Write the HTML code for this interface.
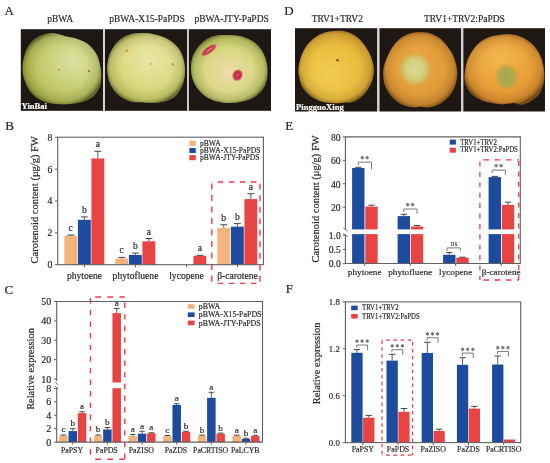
<!DOCTYPE html>
<html><head><meta charset="utf-8"><style>
html,body{margin:0;padding:0;background:#fff;width:550px;height:463px;overflow:hidden}
svg{display:block;font-family:'Liberation Serif', serif;will-change:transform}
</style></head><body>
<svg width="550" height="463" viewBox="0 0 550 463">
<rect width="550" height="463" fill="#fff"/>
<defs>
<radialGradient id="gA1" cx="0.65" cy="0.4" r="0.8"><stop offset="0" stop-color="#dce0a2"/><stop offset="0.35" stop-color="#ccd480"/><stop offset="0.7" stop-color="#b8c05a"/><stop offset="1" stop-color="#8e9830"/></radialGradient>
<radialGradient id="gA2" cx="0.55" cy="0.38" r="0.8"><stop offset="0" stop-color="#e8e6a8"/><stop offset="0.4" stop-color="#e0dc8a"/><stop offset="0.75" stop-color="#ccce68"/><stop offset="1" stop-color="#a8b048"/></radialGradient>
<radialGradient id="gA3" cx="0.5" cy="0.55" r="0.75"><stop offset="0" stop-color="#eedcaa"/><stop offset="0.4" stop-color="#dcd888"/><stop offset="0.75" stop-color="#c0c860"/><stop offset="1" stop-color="#94b048"/></radialGradient>
<radialGradient id="rimA" cx="0.5" cy="0.5" r="0.52"><stop offset="0" stop-color="#000" stop-opacity="0"/><stop offset="0.62" stop-color="#182000" stop-opacity="0"/><stop offset="0.88" stop-color="#182000" stop-opacity="0.1"/><stop offset="0.97" stop-color="#182000" stop-opacity="0.35"/><stop offset="1" stop-color="#182000" stop-opacity="0.55"/></radialGradient>
<radialGradient id="rim" cx="0.5" cy="0.5" r="0.52"><stop offset="0" stop-color="#000" stop-opacity="0"/><stop offset="0.62" stop-color="#201400" stop-opacity="0"/><stop offset="0.88" stop-color="#201400" stop-opacity="0.1"/><stop offset="0.97" stop-color="#201400" stop-opacity="0.35"/><stop offset="1" stop-color="#201400" stop-opacity="0.55"/></radialGradient>
<radialGradient id="gD1" cx="0.4" cy="0.6" r="0.75"><stop offset="0" stop-color="#f2cc52"/><stop offset="0.5" stop-color="#eabe40"/><stop offset="1" stop-color="#daa230"/></radialGradient>
<radialGradient id="gD2" cx="0.45" cy="0.45" r="0.75"><stop offset="0" stop-color="#ecaa48"/><stop offset="0.5" stop-color="#e29c38"/><stop offset="1" stop-color="#cc842c"/></radialGradient>
<radialGradient id="gD3" cx="0.45" cy="0.35" r="0.75"><stop offset="0" stop-color="#f2b850"/><stop offset="0.5" stop-color="#eaa03a"/><stop offset="1" stop-color="#dc8c2c"/></radialGradient>
<radialGradient id="pG2" cx="0.5" cy="0.5" r="0.5"><stop offset="0" stop-color="#dadb96"/><stop offset="0.55" stop-color="#d2d07c"/><stop offset="0.82" stop-color="#d4b860" stop-opacity="0.7"/><stop offset="1" stop-color="#e29c38" stop-opacity="0"/></radialGradient>
<radialGradient id="pG3" cx="0.5" cy="0.5" r="0.5"><stop offset="0" stop-color="#a4a44a"/><stop offset="0.55" stop-color="#acaa4c"/><stop offset="0.8" stop-color="#c8a440" stop-opacity="0.7"/><stop offset="1" stop-color="#e89c34" stop-opacity="0"/></radialGradient>
<radialGradient id="rs" cx="0.5" cy="0.5" r="0.5"><stop offset="0" stop-color="#d85868"/><stop offset="0.45" stop-color="#c42840"/><stop offset="0.72" stop-color="#cc3a4c" stop-opacity="0.85"/><stop offset="1" stop-color="#e0c0a0" stop-opacity="0"/></radialGradient>
<filter id="soft" x="-10%" y="-10%" width="120%" height="120%"><feGaussianBlur stdDeviation="0.7"/></filter>
</defs>
<rect x="20.80" y="29.20" width="82.20" height="81.60" fill="#1e1815" />
<rect x="104.80" y="29.20" width="82.20" height="81.60" fill="#1e1815" />
<rect x="188.60" y="29.20" width="82.40" height="81.60" fill="#1e1815" />
<rect x="295.00" y="28.20" width="82.30" height="83.30" fill="#1e1815" />
<rect x="379.30" y="28.20" width="81.70" height="83.30" fill="#1e1815" />
<rect x="463.20" y="28.20" width="81.80" height="83.30" fill="#1e1815" />
<rect x="103.00" y="29.20" width="1.80" height="81.60" fill="#d6d2d2" />
<rect x="187.00" y="29.20" width="1.60" height="81.60" fill="#d6d2d2" />
<rect x="377.30" y="28.20" width="2.00" height="83.30" fill="#d6d2d2" />
<rect x="461.00" y="28.20" width="2.20" height="83.30" fill="#d6d2d2" />
<path d="M52.70,33.10 C56.63,33.25 61.78,35.38 65.40,36.20 C69.02,37.02 70.77,36.80 74.40,38.00 C78.03,39.20 83.57,40.83 87.20,43.40 C90.83,45.97 94.08,49.92 96.20,53.40 C98.32,56.88 99.05,60.67 99.90,64.30 C100.75,67.93 101.30,71.57 101.30,75.20 C101.30,78.83 101.05,82.77 99.90,86.10 C98.75,89.43 97.13,92.63 94.40,95.20 C91.67,97.77 88.03,100.00 83.50,101.50 C78.97,103.00 72.63,103.90 67.20,104.20 C61.77,104.50 55.75,104.20 50.90,103.30 C46.05,102.40 41.73,101.07 38.10,98.80 C34.47,96.53 31.52,93.33 29.10,89.70 C26.68,86.07 24.67,81.23 23.60,77.00 C22.53,72.77 22.23,68.83 22.70,64.30 C23.17,59.77 24.73,53.73 26.40,49.80 C28.07,45.87 30.13,43.12 32.70,40.70 C35.27,38.28 38.47,36.57 41.80,35.30 C45.13,34.03 48.77,32.95 52.70,33.10 Z" fill="url(#gA1)" filter="url(#soft)"/>
<path d="M52.70,33.10 C56.63,33.25 61.78,35.38 65.40,36.20 C69.02,37.02 70.77,36.80 74.40,38.00 C78.03,39.20 83.57,40.83 87.20,43.40 C90.83,45.97 94.08,49.92 96.20,53.40 C98.32,56.88 99.05,60.67 99.90,64.30 C100.75,67.93 101.30,71.57 101.30,75.20 C101.30,78.83 101.05,82.77 99.90,86.10 C98.75,89.43 97.13,92.63 94.40,95.20 C91.67,97.77 88.03,100.00 83.50,101.50 C78.97,103.00 72.63,103.90 67.20,104.20 C61.77,104.50 55.75,104.20 50.90,103.30 C46.05,102.40 41.73,101.07 38.10,98.80 C34.47,96.53 31.52,93.33 29.10,89.70 C26.68,86.07 24.67,81.23 23.60,77.00 C22.53,72.77 22.23,68.83 22.70,64.30 C23.17,59.77 24.73,53.73 26.40,49.80 C28.07,45.87 30.13,43.12 32.70,40.70 C35.27,38.28 38.47,36.57 41.80,35.30 C45.13,34.03 48.77,32.95 52.70,33.10 Z" fill="url(#rimA)" filter="url(#soft)"/>
<circle cx="59" cy="69.7" r="0.8" fill="#a07030"/><ellipse cx="89" cy="71" rx="0.8" ry="1.3" fill="#a05a30"/>
<path d="M140.30,33.10 C144.83,32.95 150.27,33.43 154.80,34.40 C159.33,35.37 163.57,36.63 167.50,38.90 C171.43,41.17 175.67,44.37 178.40,48.00 C181.13,51.63 182.83,56.17 183.90,60.70 C184.97,65.23 185.27,70.67 184.80,75.20 C184.33,79.73 183.07,84.12 181.10,87.90 C179.13,91.68 176.78,95.48 173.00,97.90 C169.22,100.32 163.25,101.65 158.40,102.40 C153.55,103.15 148.43,102.55 143.90,102.40 C139.37,102.25 135.43,102.70 131.20,101.50 C126.97,100.30 121.97,98.07 118.50,95.20 C115.03,92.33 112.27,88.55 110.40,84.30 C108.53,80.05 107.47,74.55 107.30,69.70 C107.13,64.85 107.83,59.73 109.40,55.20 C110.97,50.67 113.67,45.82 116.70,42.50 C119.73,39.18 123.67,36.87 127.60,35.30 C131.53,33.73 135.77,33.25 140.30,33.10 Z" fill="url(#gA2)" filter="url(#soft)"/>
<path d="M140.30,33.10 C144.83,32.95 150.27,33.43 154.80,34.40 C159.33,35.37 163.57,36.63 167.50,38.90 C171.43,41.17 175.67,44.37 178.40,48.00 C181.13,51.63 182.83,56.17 183.90,60.70 C184.97,65.23 185.27,70.67 184.80,75.20 C184.33,79.73 183.07,84.12 181.10,87.90 C179.13,91.68 176.78,95.48 173.00,97.90 C169.22,100.32 163.25,101.65 158.40,102.40 C153.55,103.15 148.43,102.55 143.90,102.40 C139.37,102.25 135.43,102.70 131.20,101.50 C126.97,100.30 121.97,98.07 118.50,95.20 C115.03,92.33 112.27,88.55 110.40,84.30 C108.53,80.05 107.47,74.55 107.30,69.70 C107.13,64.85 107.83,59.73 109.40,55.20 C110.97,50.67 113.67,45.82 116.70,42.50 C119.73,39.18 123.67,36.87 127.60,35.30 C131.53,33.73 135.77,33.25 140.30,33.10 Z" fill="url(#rimA)" filter="url(#soft)"/>
<ellipse cx="126.7" cy="50.7" rx="1.5" ry="1.3" fill="#d08a48" opacity="0.9"/><circle cx="150.8" cy="63.9" r="0.9" fill="#d09a58" opacity="0.85"/><ellipse cx="172.6" cy="64.3" rx="0.9" ry="1.5" fill="#c87a48" opacity="0.9"/><circle cx="168.4" cy="87.9" r="0.8" fill="#d0b070" opacity="0.7"/>
<path d="M224.30,34.90 C228.83,34.90 235.77,35.08 240.60,36.20 C245.43,37.32 249.67,39.03 253.30,41.60 C256.93,44.17 260.13,47.82 262.40,51.60 C264.67,55.38 266.15,59.77 266.90,64.30 C267.65,68.83 267.65,74.57 266.90,78.80 C266.15,83.03 264.97,86.37 262.40,89.70 C259.83,93.03 255.73,96.68 251.50,98.80 C247.27,100.92 241.83,101.80 237.00,102.40 C232.17,103.00 227.33,103.15 222.50,102.40 C217.67,101.65 212.23,100.32 208.00,97.90 C203.77,95.48 199.83,91.68 197.10,87.90 C194.37,84.12 192.52,79.73 191.60,75.20 C190.68,70.67 190.83,64.93 191.60,60.70 C192.37,56.47 194.08,53.13 196.20,49.80 C198.32,46.47 201.43,42.97 204.30,40.70 C207.17,38.43 210.07,37.17 213.40,36.20 C216.73,35.23 219.77,34.90 224.30,34.90 Z" fill="url(#gA3)" filter="url(#soft)"/>
<path d="M224.30,34.90 C228.83,34.90 235.77,35.08 240.60,36.20 C245.43,37.32 249.67,39.03 253.30,41.60 C256.93,44.17 260.13,47.82 262.40,51.60 C264.67,55.38 266.15,59.77 266.90,64.30 C267.65,68.83 267.65,74.57 266.90,78.80 C266.15,83.03 264.97,86.37 262.40,89.70 C259.83,93.03 255.73,96.68 251.50,98.80 C247.27,100.92 241.83,101.80 237.00,102.40 C232.17,103.00 227.33,103.15 222.50,102.40 C217.67,101.65 212.23,100.32 208.00,97.90 C203.77,95.48 199.83,91.68 197.10,87.90 C194.37,84.12 192.52,79.73 191.60,75.20 C190.68,70.67 190.83,64.93 191.60,60.70 C192.37,56.47 194.08,53.13 196.20,49.80 C198.32,46.47 201.43,42.97 204.30,40.70 C207.17,38.43 210.07,37.17 213.40,36.20 C216.73,35.23 219.77,34.90 224.30,34.90 Z" fill="url(#rimA)" filter="url(#soft)"/>
<ellipse cx="209" cy="50" rx="10.5" ry="3.8" transform="rotate(-36 209 50)" fill="url(#rs)"/><ellipse cx="209.5" cy="50" rx="6" ry="1.2" transform="rotate(-36 209.5 50)" fill="#d89080" opacity="0.5"/><ellipse cx="237.5" cy="75.2" rx="5.8" ry="6.8" transform="rotate(25 237.5 75.2)" fill="url(#rs)"/>
<path d="M334.60,30.90 C337.88,30.68 341.13,30.52 344.40,31.20 C347.67,31.88 351.20,33.13 354.20,35.00 C357.20,36.87 359.95,39.53 362.40,42.40 C364.85,45.27 367.27,49.20 368.90,52.20 C370.53,55.20 371.38,57.60 372.20,60.40 C373.02,63.20 373.67,66.23 373.80,69.00 C373.93,71.77 373.53,74.43 373.00,77.00 C372.47,79.57 372.10,81.53 370.60,84.40 C369.10,87.27 366.73,91.33 364.00,94.20 C361.27,97.07 357.47,100.23 354.20,101.60 C350.93,102.97 347.67,102.13 344.40,102.40 C341.13,102.67 338.42,103.33 334.60,103.20 C330.78,103.07 325.60,102.83 321.50,101.60 C317.40,100.37 313.15,98.13 310.00,95.80 C306.85,93.47 304.37,90.60 302.60,87.60 C300.83,84.60 300.08,80.90 299.40,77.80 C298.72,74.70 298.23,72.45 298.50,69.00 C298.77,65.55 299.63,61.00 301.00,57.10 C302.37,53.20 304.38,48.87 306.70,45.60 C309.02,42.33 311.90,39.68 314.90,37.50 C317.90,35.32 321.42,33.60 324.70,32.50 C327.98,31.40 331.32,31.12 334.60,30.90 Z" fill="url(#gD1)" filter="url(#soft)"/>
<path d="M334.60,30.90 C337.88,30.68 341.13,30.52 344.40,31.20 C347.67,31.88 351.20,33.13 354.20,35.00 C357.20,36.87 359.95,39.53 362.40,42.40 C364.85,45.27 367.27,49.20 368.90,52.20 C370.53,55.20 371.38,57.60 372.20,60.40 C373.02,63.20 373.67,66.23 373.80,69.00 C373.93,71.77 373.53,74.43 373.00,77.00 C372.47,79.57 372.10,81.53 370.60,84.40 C369.10,87.27 366.73,91.33 364.00,94.20 C361.27,97.07 357.47,100.23 354.20,101.60 C350.93,102.97 347.67,102.13 344.40,102.40 C341.13,102.67 338.42,103.33 334.60,103.20 C330.78,103.07 325.60,102.83 321.50,101.60 C317.40,100.37 313.15,98.13 310.00,95.80 C306.85,93.47 304.37,90.60 302.60,87.60 C300.83,84.60 300.08,80.90 299.40,77.80 C298.72,74.70 298.23,72.45 298.50,69.00 C298.77,65.55 299.63,61.00 301.00,57.10 C302.37,53.20 304.38,48.87 306.70,45.60 C309.02,42.33 311.90,39.68 314.90,37.50 C317.90,35.32 321.42,33.60 324.70,32.50 C327.98,31.40 331.32,31.12 334.60,30.90 Z" fill="url(#rim)" filter="url(#soft)"/>
<circle cx="337.5" cy="60.3" r="1.3" fill="#a04020"/>
<path d="M420.20,32.20 C423.47,32.20 426.73,32.38 430.00,33.40 C433.27,34.42 436.80,35.98 439.80,38.30 C442.80,40.62 445.68,44.17 448.00,47.30 C450.32,50.43 452.17,53.07 453.70,57.10 C455.23,61.13 456.92,66.95 457.20,71.50 C457.48,76.05 456.67,80.35 455.40,84.40 C454.13,88.45 452.20,92.53 449.60,95.80 C447.00,99.07 443.33,102.08 439.80,104.00 C436.27,105.92 431.67,106.88 428.40,107.30 C425.13,107.72 422.67,106.50 420.20,106.50 C417.73,106.50 416.60,107.58 413.60,107.30 C410.60,107.02 405.73,106.43 402.20,104.80 C398.67,103.17 395.13,100.37 392.40,97.50 C389.67,94.63 387.30,90.88 385.80,87.60 C384.30,84.32 383.77,81.07 383.40,77.80 C383.03,74.53 383.07,71.18 383.60,68.00 C384.13,64.82 385.13,62.15 386.60,58.70 C388.07,55.25 390.08,50.70 392.40,47.30 C394.72,43.90 397.50,40.62 400.50,38.30 C403.50,35.98 407.12,34.42 410.40,33.40 C413.68,32.38 416.93,32.20 420.20,32.20 Z" fill="url(#gD2)" filter="url(#soft)"/>
<path d="M420.20,32.20 C423.47,32.20 426.73,32.38 430.00,33.40 C433.27,34.42 436.80,35.98 439.80,38.30 C442.80,40.62 445.68,44.17 448.00,47.30 C450.32,50.43 452.17,53.07 453.70,57.10 C455.23,61.13 456.92,66.95 457.20,71.50 C457.48,76.05 456.67,80.35 455.40,84.40 C454.13,88.45 452.20,92.53 449.60,95.80 C447.00,99.07 443.33,102.08 439.80,104.00 C436.27,105.92 431.67,106.88 428.40,107.30 C425.13,107.72 422.67,106.50 420.20,106.50 C417.73,106.50 416.60,107.58 413.60,107.30 C410.60,107.02 405.73,106.43 402.20,104.80 C398.67,103.17 395.13,100.37 392.40,97.50 C389.67,94.63 387.30,90.88 385.80,87.60 C384.30,84.32 383.77,81.07 383.40,77.80 C383.03,74.53 383.07,71.18 383.60,68.00 C384.13,64.82 385.13,62.15 386.60,58.70 C388.07,55.25 390.08,50.70 392.40,47.30 C394.72,43.90 397.50,40.62 400.50,38.30 C403.50,35.98 407.12,34.42 410.40,33.40 C413.68,32.38 416.93,32.20 420.20,32.20 Z" fill="url(#rim)" filter="url(#soft)"/>
<ellipse cx="415" cy="69.5" rx="17.5" ry="18" fill="url(#pG2)"/>
<path d="M504.20,34.50 C508.28,34.23 512.05,34.23 515.60,35.00 C519.15,35.77 522.50,37.33 525.50,39.10 C528.50,40.87 531.15,42.87 533.60,45.60 C536.05,48.33 538.55,51.95 540.20,55.50 C541.85,59.05 542.82,62.98 543.50,66.90 C544.18,70.82 544.45,75.73 544.30,79.00 C544.15,82.27 543.55,83.88 542.60,86.50 C541.65,89.12 540.63,92.23 538.60,94.70 C536.57,97.17 533.13,99.67 530.40,101.30 C527.67,102.93 524.93,104.23 522.20,104.50 C519.47,104.77 517.27,102.95 514.00,102.90 C510.73,102.85 506.15,104.20 502.60,104.20 C499.05,104.20 495.72,103.38 492.70,102.90 C489.68,102.42 487.50,102.38 484.50,101.30 C481.50,100.22 477.42,98.32 474.70,96.40 C471.98,94.48 469.88,92.70 468.20,89.80 C466.52,86.90 464.88,83.37 464.60,79.00 C464.32,74.63 465.35,68.07 466.50,63.60 C467.65,59.13 469.32,55.73 471.50,52.20 C473.68,48.67 476.33,45.00 479.60,42.40 C482.87,39.80 487.00,37.92 491.10,36.60 C495.20,35.28 500.12,34.77 504.20,34.50 Z" fill="url(#gD3)" filter="url(#soft)"/>
<path d="M504.20,34.50 C508.28,34.23 512.05,34.23 515.60,35.00 C519.15,35.77 522.50,37.33 525.50,39.10 C528.50,40.87 531.15,42.87 533.60,45.60 C536.05,48.33 538.55,51.95 540.20,55.50 C541.85,59.05 542.82,62.98 543.50,66.90 C544.18,70.82 544.45,75.73 544.30,79.00 C544.15,82.27 543.55,83.88 542.60,86.50 C541.65,89.12 540.63,92.23 538.60,94.70 C536.57,97.17 533.13,99.67 530.40,101.30 C527.67,102.93 524.93,104.23 522.20,104.50 C519.47,104.77 517.27,102.95 514.00,102.90 C510.73,102.85 506.15,104.20 502.60,104.20 C499.05,104.20 495.72,103.38 492.70,102.90 C489.68,102.42 487.50,102.38 484.50,101.30 C481.50,100.22 477.42,98.32 474.70,96.40 C471.98,94.48 469.88,92.70 468.20,89.80 C466.52,86.90 464.88,83.37 464.60,79.00 C464.32,74.63 465.35,68.07 466.50,63.60 C467.65,59.13 469.32,55.73 471.50,52.20 C473.68,48.67 476.33,45.00 479.60,42.40 C482.87,39.80 487.00,37.92 491.10,36.60 C495.20,35.28 500.12,34.77 504.20,34.50 Z" fill="url(#rim)" filter="url(#soft)"/>
<ellipse cx="506.7" cy="77" rx="12.5" ry="14.5" fill="url(#pG3)"/>
<text x="60.20" y="22.00" font-size="9.5" text-anchor="middle" fill="#2a2a2a" stroke="#2a2a2a" stroke-width="0.18" >pBWA</text>
<text x="147.00" y="22.00" font-size="9.5" text-anchor="middle" fill="#2a2a2a" stroke="#2a2a2a" stroke-width="0.18" >pBWA-X15-PaPDS</text>
<text x="231.60" y="22.00" font-size="9.5" text-anchor="middle" fill="#2a2a2a" stroke="#2a2a2a" stroke-width="0.18" >pBWA-JTY-PaPDS</text>
<text x="337.30" y="22.00" font-size="9.5" text-anchor="middle" fill="#2a2a2a" stroke="#2a2a2a" stroke-width="0.18" >TRV1+TRV2</text>
<text x="464.40" y="21.80" font-size="9.5" text-anchor="middle" fill="#2a2a2a" stroke="#2a2a2a" stroke-width="0.18" >TRV1+TRV2:PaPDS</text>
<text x="21.60" y="109.10" font-size="8.5" text-anchor="start" fill="#fff" stroke="#fff" stroke-width="0.18" font-weight="bold">YinBai</text>
<text x="296.00" y="110.40" font-size="8.6" text-anchor="start" fill="#fff" stroke="#fff" stroke-width="0.18" font-weight="bold">PingguoXing</text>
<text x="4.60" y="14.80" font-size="13" text-anchor="start" fill="#2a2a2a" stroke="#2a2a2a" stroke-width="0.22" >A</text>
<text x="284.20" y="14.80" font-size="13" text-anchor="start" fill="#2a2a2a" stroke="#2a2a2a" stroke-width="0.22" >D</text>
<rect x="64.30" y="235.71" width="12.90" height="28.99" fill="#f3b47c" />
<line x1="70.75" y1="235.71" x2="70.75" y2="235.07" stroke="#333" stroke-width="0.8" />
<line x1="67.25" y1="235.07" x2="74.25" y2="235.07" stroke="#333" stroke-width="0.9" />
<text x="70.75" y="231.07" font-size="9.6" text-anchor="middle" fill="#2a2a2a" stroke="#2a2a2a" stroke-width="0.18" >c</text>
<rect x="77.90" y="219.78" width="12.90" height="44.92" fill="#1d4c9f" />
<line x1="84.35" y1="219.78" x2="84.35" y2="216.91" stroke="#333" stroke-width="0.8" />
<line x1="80.85" y1="216.91" x2="87.85" y2="216.91" stroke="#333" stroke-width="0.9" />
<text x="84.35" y="212.91" font-size="9.6" text-anchor="middle" fill="#2a2a2a" stroke="#2a2a2a" stroke-width="0.18" >b</text>
<rect x="91.40" y="158.45" width="12.90" height="106.25" fill="#e84444" />
<line x1="97.85" y1="158.45" x2="97.85" y2="151.28" stroke="#333" stroke-width="0.8" />
<line x1="94.35" y1="151.28" x2="101.35" y2="151.28" stroke="#333" stroke-width="0.9" />
<text x="97.85" y="147.28" font-size="9.6" text-anchor="middle" fill="#2a2a2a" stroke="#2a2a2a" stroke-width="0.18" >a</text>
<line x1="84.50" y1="264.70" x2="84.50" y2="267.20" stroke="#606060" stroke-width="1" />
<text x="84.50" y="278.50" font-size="9.6" text-anchor="middle" fill="#2a2a2a" stroke="#2a2a2a" stroke-width="0.18" >phytoene</text>
<rect x="115.30" y="258.49" width="12.90" height="6.21" fill="#f3b47c" />
<line x1="121.75" y1="258.49" x2="121.75" y2="257.37" stroke="#333" stroke-width="0.8" />
<line x1="118.25" y1="257.37" x2="125.25" y2="257.37" stroke="#333" stroke-width="0.9" />
<text x="121.75" y="253.37" font-size="9.6" text-anchor="middle" fill="#2a2a2a" stroke="#2a2a2a" stroke-width="0.18" >c</text>
<rect x="128.90" y="254.90" width="12.90" height="9.80" fill="#1d4c9f" />
<line x1="135.35" y1="254.90" x2="135.35" y2="253.07" stroke="#333" stroke-width="0.8" />
<line x1="131.85" y1="253.07" x2="138.85" y2="253.07" stroke="#333" stroke-width="0.9" />
<text x="135.35" y="249.07" font-size="9.6" text-anchor="middle" fill="#2a2a2a" stroke="#2a2a2a" stroke-width="0.18" >b</text>
<rect x="142.40" y="241.28" width="12.90" height="23.42" fill="#e84444" />
<line x1="148.85" y1="241.28" x2="148.85" y2="238.50" stroke="#333" stroke-width="0.8" />
<line x1="145.35" y1="238.50" x2="152.35" y2="238.50" stroke="#333" stroke-width="0.9" />
<text x="148.85" y="234.50" font-size="9.6" text-anchor="middle" fill="#2a2a2a" stroke="#2a2a2a" stroke-width="0.18" >a</text>
<line x1="135.50" y1="264.70" x2="135.50" y2="267.20" stroke="#606060" stroke-width="1" />
<text x="135.50" y="278.50" font-size="9.6" text-anchor="middle" fill="#2a2a2a" stroke="#2a2a2a" stroke-width="0.18" >phytofluene</text>
<rect x="193.40" y="255.78" width="12.90" height="8.92" fill="#e84444" />
<line x1="199.85" y1="255.78" x2="199.85" y2="255.30" stroke="#333" stroke-width="0.8" />
<line x1="196.35" y1="255.30" x2="203.35" y2="255.30" stroke="#333" stroke-width="0.9" />
<text x="199.85" y="251.30" font-size="9.6" text-anchor="middle" fill="#2a2a2a" stroke="#2a2a2a" stroke-width="0.18" >a</text>
<line x1="186.50" y1="264.70" x2="186.50" y2="267.20" stroke="#606060" stroke-width="1" />
<text x="186.50" y="278.50" font-size="9.6" text-anchor="middle" fill="#2a2a2a" stroke="#2a2a2a" stroke-width="0.18" >lycopene</text>
<rect x="217.30" y="227.90" width="12.90" height="36.80" fill="#f3b47c" />
<line x1="223.75" y1="227.90" x2="223.75" y2="224.72" stroke="#333" stroke-width="0.8" />
<line x1="220.25" y1="224.72" x2="227.25" y2="224.72" stroke="#333" stroke-width="0.9" />
<text x="223.75" y="220.72" font-size="9.6" text-anchor="middle" fill="#2a2a2a" stroke="#2a2a2a" stroke-width="0.18" >b</text>
<rect x="230.90" y="226.63" width="12.90" height="38.07" fill="#1d4c9f" />
<line x1="237.35" y1="226.63" x2="237.35" y2="223.60" stroke="#333" stroke-width="0.8" />
<line x1="233.85" y1="223.60" x2="240.85" y2="223.60" stroke="#333" stroke-width="0.9" />
<text x="237.35" y="219.60" font-size="9.6" text-anchor="middle" fill="#2a2a2a" stroke="#2a2a2a" stroke-width="0.18" >b</text>
<rect x="244.40" y="199.07" width="12.90" height="65.63" fill="#e84444" />
<line x1="250.85" y1="199.07" x2="250.85" y2="193.65" stroke="#333" stroke-width="0.8" />
<line x1="247.35" y1="193.65" x2="254.35" y2="193.65" stroke="#333" stroke-width="0.9" />
<text x="250.85" y="189.65" font-size="9.6" text-anchor="middle" fill="#2a2a2a" stroke="#2a2a2a" stroke-width="0.18" >a</text>
<line x1="237.50" y1="264.70" x2="237.50" y2="267.20" stroke="#606060" stroke-width="1" />
<text x="237.50" y="278.50" font-size="9.6" text-anchor="middle" fill="#2a2a2a" stroke="#2a2a2a" stroke-width="0.18" >β-carotene</text>
<rect x="57.7" y="137.2" width="205.70" height="127.50" fill="none" stroke="#606060" stroke-width="1.1"/>
<line x1="55.00" y1="264.70" x2="57.70" y2="264.70" stroke="#606060" stroke-width="1" />
<text x="52.30" y="268.10" font-size="9.8" text-anchor="end" fill="#2a2a2a" stroke="#2a2a2a" stroke-width="0.18" >0</text>
<line x1="55.00" y1="232.84" x2="57.70" y2="232.84" stroke="#606060" stroke-width="1" />
<text x="52.30" y="236.24" font-size="9.8" text-anchor="end" fill="#2a2a2a" stroke="#2a2a2a" stroke-width="0.18" >2</text>
<line x1="55.00" y1="200.98" x2="57.70" y2="200.98" stroke="#606060" stroke-width="1" />
<text x="52.30" y="204.38" font-size="9.8" text-anchor="end" fill="#2a2a2a" stroke="#2a2a2a" stroke-width="0.18" >4</text>
<line x1="55.00" y1="169.12" x2="57.70" y2="169.12" stroke="#606060" stroke-width="1" />
<text x="52.30" y="172.52" font-size="9.8" text-anchor="end" fill="#2a2a2a" stroke="#2a2a2a" stroke-width="0.18" >6</text>
<line x1="55.00" y1="137.26" x2="57.70" y2="137.26" stroke="#606060" stroke-width="1" />
<text x="52.30" y="140.66" font-size="9.8" text-anchor="end" fill="#2a2a2a" stroke="#2a2a2a" stroke-width="0.18" >8</text>
<text x="0.00" y="0.00" font-size="10.5" text-anchor="middle" fill="#2a2a2a" stroke="#2a2a2a" stroke-width="0.18" transform="translate(37.5,199.8) rotate(-90)">Carotenoid content (μg/g) FW</text>
<rect x="189.30" y="140.80" width="6.50" height="5.00" fill="#f3b47c" />
<text x="0.00" y="0.00" font-size="8.2" text-anchor="start" fill="#2a2a2a" stroke="#2a2a2a" stroke-width="0.18" transform="translate(199.9,145.90) scale(0.93,1)">pBWA</text>
<rect x="189.30" y="148.00" width="6.50" height="5.00" fill="#1d4c9f" />
<text x="0.00" y="0.00" font-size="8.2" text-anchor="start" fill="#2a2a2a" stroke="#2a2a2a" stroke-width="0.18" transform="translate(199.9,152.90) scale(0.93,1)">pBWA-X15-PaPDS</text>
<rect x="189.30" y="155.20" width="6.50" height="5.00" fill="#e84444" />
<text x="0.00" y="0.00" font-size="8.2" text-anchor="start" fill="#2a2a2a" stroke="#2a2a2a" stroke-width="0.18" transform="translate(199.9,159.90) scale(0.93,1)">pBWA-JTY-PaPDS</text>
<line x1="211.8" y1="182" x2="260" y2="182" stroke="#ec3a48" stroke-width="1.4" stroke-dasharray="5.5 5.60" stroke-dashoffset="5.20"/>
<line x1="211.8" y1="283.4" x2="260" y2="283.4" stroke="#ec3a48" stroke-width="1.4" stroke-dasharray="5.5 5.60" stroke-dashoffset="5.20"/>
<line x1="211.8" y1="182" x2="211.8" y2="283.4" stroke="#ec3a48" stroke-width="1.4" stroke-dasharray="6.0 5.50" stroke-dashoffset="9.90"/>
<line x1="260" y1="182" x2="260" y2="283.4" stroke="#ec3a48" stroke-width="1.4" stroke-dasharray="6.0 5.50" stroke-dashoffset="9.80"/>
<text x="5.20" y="129.80" font-size="13" text-anchor="start" fill="#2a2a2a" stroke="#2a2a2a" stroke-width="0.22" >B</text>
<rect x="352.10" y="234.10" width="12.40" height="29.40" fill="#1d4c9f" />
<rect x="352.10" y="168.00" width="12.40" height="61.40" fill="#1d4c9f" />
<line x1="358.30" y1="168.00" x2="358.30" y2="167.30" stroke="#333" stroke-width="0.8" />
<line x1="355.10" y1="167.30" x2="361.50" y2="167.30" stroke="#333" stroke-width="0.9" />
<rect x="365.30" y="234.10" width="12.40" height="29.40" fill="#e84444" />
<rect x="365.30" y="206.60" width="12.40" height="22.80" fill="#e84444" />
<line x1="371.50" y1="206.60" x2="371.50" y2="205.20" stroke="#333" stroke-width="0.8" />
<line x1="368.30" y1="205.20" x2="374.70" y2="205.20" stroke="#333" stroke-width="0.9" />
<polyline points="358.30,165.40 358.30,162.10 371.50,162.10 371.50,169.30" fill="none" stroke="#6a6a6a" stroke-width="0.9"/>
<polygon points="362.25,155.57 362.89,156.60 364.09,156.64 363.52,157.70 364.09,158.76 362.89,158.80 362.25,159.82 361.61,158.80 360.41,158.76 360.98,157.70 360.41,156.64 361.61,156.60" fill="#737373"/>
<polygon points="367.15,155.57 367.79,156.60 368.99,156.64 368.42,157.70 368.99,158.76 367.79,158.80 367.15,159.82 366.51,158.80 365.31,158.76 365.88,157.70 365.31,156.64 366.51,156.60" fill="#737373"/>
<line x1="364.70" y1="263.50" x2="364.70" y2="266.00" stroke="#606060" stroke-width="1" />
<text x="364.70" y="274.80" font-size="9.2" text-anchor="middle" fill="#2a2a2a" stroke="#2a2a2a" stroke-width="0.18" >phytoene</text>
<rect x="397.60" y="234.10" width="12.40" height="29.40" fill="#1d4c9f" />
<rect x="397.60" y="216.10" width="12.40" height="13.30" fill="#1d4c9f" />
<line x1="403.80" y1="216.10" x2="403.80" y2="214.30" stroke="#333" stroke-width="0.8" />
<line x1="400.60" y1="214.30" x2="407.00" y2="214.30" stroke="#333" stroke-width="0.9" />
<rect x="410.80" y="234.10" width="12.40" height="29.40" fill="#e84444" />
<rect x="410.80" y="226.50" width="12.40" height="2.90" fill="#e84444" />
<line x1="417.00" y1="226.50" x2="417.00" y2="225.50" stroke="#333" stroke-width="0.8" />
<line x1="413.80" y1="225.50" x2="420.20" y2="225.50" stroke="#333" stroke-width="0.9" />
<polyline points="403.80,212.00 403.80,209.00 417.00,209.00 417.00,213.70" fill="none" stroke="#6a6a6a" stroke-width="0.9"/>
<polygon points="407.75,202.47 408.39,203.50 409.59,203.54 409.02,204.60 409.59,205.66 408.39,205.70 407.75,206.72 407.11,205.70 405.91,205.66 406.48,204.60 405.91,203.54 407.11,203.50" fill="#737373"/>
<polygon points="412.65,202.47 413.29,203.50 414.49,203.54 413.92,204.60 414.49,205.66 413.29,205.70 412.65,206.72 412.01,205.70 410.81,205.66 411.38,204.60 410.81,203.54 412.01,203.50" fill="#737373"/>
<line x1="410.20" y1="263.50" x2="410.20" y2="266.00" stroke="#606060" stroke-width="1" />
<text x="410.20" y="274.80" font-size="9.2" text-anchor="middle" fill="#2a2a2a" stroke="#2a2a2a" stroke-width="0.18" >phytofluene</text>
<rect x="443.10" y="254.80" width="12.40" height="8.70" fill="#1d4c9f" />
<line x1="449.30" y1="254.80" x2="449.30" y2="252.60" stroke="#333" stroke-width="0.8" />
<line x1="446.10" y1="252.60" x2="452.50" y2="252.60" stroke="#333" stroke-width="0.9" />
<rect x="456.30" y="257.60" width="12.40" height="5.90" fill="#e84444" />
<line x1="462.50" y1="257.60" x2="462.50" y2="257.20" stroke="#333" stroke-width="0.8" />
<line x1="459.30" y1="257.20" x2="465.70" y2="257.20" stroke="#333" stroke-width="0.9" />
<polyline points="447.10,250.80 447.10,247.90 460.30,247.90 460.30,250.80" fill="none" stroke="#6a6a6a" stroke-width="0.9"/>
<text x="454.00" y="245.50" font-size="7.8" text-anchor="middle" fill="#555" stroke="#555" stroke-width="0.18" >ns</text>
<line x1="455.70" y1="263.50" x2="455.70" y2="266.00" stroke="#606060" stroke-width="1" />
<text x="455.70" y="274.80" font-size="9.2" text-anchor="middle" fill="#2a2a2a" stroke="#2a2a2a" stroke-width="0.18" >lycopene</text>
<rect x="488.60" y="234.10" width="12.40" height="29.40" fill="#1d4c9f" />
<rect x="488.60" y="177.10" width="12.40" height="52.30" fill="#1d4c9f" />
<line x1="494.80" y1="177.10" x2="494.80" y2="176.40" stroke="#333" stroke-width="0.8" />
<line x1="491.60" y1="176.40" x2="498.00" y2="176.40" stroke="#333" stroke-width="0.9" />
<rect x="501.80" y="234.10" width="12.40" height="29.40" fill="#e84444" />
<rect x="501.80" y="204.90" width="12.40" height="24.50" fill="#e84444" />
<line x1="508.00" y1="204.90" x2="508.00" y2="202.20" stroke="#333" stroke-width="0.8" />
<line x1="504.80" y1="202.20" x2="511.20" y2="202.20" stroke="#333" stroke-width="0.9" />
<polyline points="492.20,172.80 492.20,170.10 505.40,170.10 505.40,175.00" fill="none" stroke="#6a6a6a" stroke-width="0.9"/>
<polygon points="496.15,163.57 496.79,164.60 497.99,164.64 497.42,165.70 497.99,166.76 496.79,166.80 496.15,167.82 495.51,166.80 494.31,166.76 494.88,165.70 494.31,164.64 495.51,164.60" fill="#737373"/>
<polygon points="501.05,163.57 501.69,164.60 502.89,164.64 502.32,165.70 502.89,166.76 501.69,166.80 501.05,167.82 500.41,166.80 499.21,166.76 499.77,165.70 499.21,164.64 500.41,164.60" fill="#737373"/>
<line x1="501.20" y1="263.50" x2="501.20" y2="266.00" stroke="#606060" stroke-width="1" />
<text x="501.20" y="274.80" font-size="9.2" text-anchor="middle" fill="#2a2a2a" stroke="#2a2a2a" stroke-width="0.18" >β-carotene</text>
<polyline points="345.4,229.20000000000002 345.4,136.9 520.3,136.9 520.3,263.5 345.4,263.5 345.4,235.1" fill="none" stroke="#606060" stroke-width="1.1"/>
<line x1="343.20" y1="227.90" x2="347.60" y2="230.90" stroke="#606060" stroke-width="0.9" />
<line x1="343.20" y1="233.60" x2="347.60" y2="236.60" stroke="#606060" stroke-width="0.9" />
<line x1="342.70" y1="136.90" x2="345.40" y2="136.90" stroke="#606060" stroke-width="1" />
<text x="340.60" y="141.00" font-size="9.6" text-anchor="end" fill="#2a2a2a" stroke="#2a2a2a" stroke-width="0.18" >80</text>
<line x1="342.70" y1="160.33" x2="345.40" y2="160.33" stroke="#606060" stroke-width="1" />
<text x="340.60" y="164.43" font-size="9.6" text-anchor="end" fill="#2a2a2a" stroke="#2a2a2a" stroke-width="0.18" >60</text>
<line x1="342.70" y1="183.77" x2="345.40" y2="183.77" stroke="#606060" stroke-width="1" />
<text x="340.60" y="187.87" font-size="9.6" text-anchor="end" fill="#2a2a2a" stroke="#2a2a2a" stroke-width="0.18" >40</text>
<line x1="342.70" y1="207.20" x2="345.40" y2="207.20" stroke="#606060" stroke-width="1" />
<text x="340.60" y="211.30" font-size="9.6" text-anchor="end" fill="#2a2a2a" stroke="#2a2a2a" stroke-width="0.18" >20</text>
<line x1="342.70" y1="235.10" x2="345.40" y2="235.10" stroke="#606060" stroke-width="1" />
<text x="340.80" y="238.50" font-size="9.6" text-anchor="end" fill="#2a2a2a" stroke="#2a2a2a" stroke-width="0.18" >1.0</text>
<line x1="342.70" y1="249.40" x2="345.40" y2="249.40" stroke="#606060" stroke-width="1" />
<text x="340.80" y="252.80" font-size="9.6" text-anchor="end" fill="#2a2a2a" stroke="#2a2a2a" stroke-width="0.18" >0.5</text>
<line x1="342.70" y1="263.70" x2="345.40" y2="263.70" stroke="#606060" stroke-width="1" />
<text x="340.80" y="267.10" font-size="9.6" text-anchor="end" fill="#2a2a2a" stroke="#2a2a2a" stroke-width="0.18" >0.0</text>
<text x="0.00" y="0.00" font-size="10.5" text-anchor="middle" fill="#2a2a2a" stroke="#2a2a2a" stroke-width="0.18" transform="translate(319.3,198.9) rotate(-90)">Carotenoid content (μg/g) FW</text>
<rect x="449.70" y="139.60" width="6.20" height="5.00" fill="#1d4c9f" />
<text x="0.00" y="0.00" font-size="7.8" text-anchor="start" fill="#2a2a2a" stroke="#2a2a2a" stroke-width="0.18" transform="translate(460.2,144.7) scale(0.87,1)">TRV1+TRV2</text>
<rect x="449.70" y="147.70" width="6.20" height="5.00" fill="#e84444" />
<text x="0.00" y="0.00" font-size="7.8" text-anchor="start" fill="#2a2a2a" stroke="#2a2a2a" stroke-width="0.18" transform="translate(460.2,152.1) scale(0.87,1)">TRV1+TRV2:PaPDS</text>
<line x1="479.9" y1="159.8" x2="518.7" y2="159.8" stroke="#ec3a48" stroke-width="1.3" stroke-dasharray="5.7 5.50" stroke-dashoffset="7.70"/>
<line x1="479.9" y1="280" x2="518.7" y2="280" stroke="#ec3a48" stroke-width="1.3" stroke-dasharray="5.7 5.50" stroke-dashoffset="7.70"/>
<line x1="479.9" y1="159.8" x2="479.9" y2="280" stroke="#ec3a48" stroke-width="1.3" stroke-dasharray="5.0 5.40" stroke-dashoffset="8.70"/>
<line x1="518.7" y1="159.8" x2="518.7" y2="280" stroke="#ec3a48" stroke-width="1.3" stroke-dasharray="5.0 5.40" stroke-dashoffset="9.20"/>
<text x="285.20" y="130.20" font-size="13" text-anchor="start" fill="#2a2a2a" stroke="#2a2a2a" stroke-width="0.22" >E</text>
<rect x="59.20" y="435.60" width="8.50" height="6.50" fill="#f3b47c" />
<line x1="63.45" y1="435.60" x2="63.45" y2="435.00" stroke="#333" stroke-width="0.8" />
<line x1="60.65" y1="435.00" x2="66.25" y2="435.00" stroke="#333" stroke-width="0.9" />
<text x="63.45" y="432.40" font-size="9.2" text-anchor="middle" fill="#2a2a2a" stroke="#2a2a2a" stroke-width="0.18" >c</text>
<rect x="68.50" y="431.10" width="8.50" height="11.00" fill="#1d4c9f" />
<line x1="72.75" y1="431.10" x2="72.75" y2="428.70" stroke="#333" stroke-width="0.8" />
<line x1="69.95" y1="428.70" x2="75.55" y2="428.70" stroke="#333" stroke-width="0.9" />
<text x="72.75" y="426.10" font-size="9.2" text-anchor="middle" fill="#2a2a2a" stroke="#2a2a2a" stroke-width="0.18" >b</text>
<rect x="77.80" y="413.10" width="8.50" height="29.00" fill="#e84444" />
<line x1="82.05" y1="413.10" x2="82.05" y2="411.70" stroke="#333" stroke-width="0.8" />
<line x1="79.25" y1="411.70" x2="84.85" y2="411.70" stroke="#333" stroke-width="0.9" />
<text x="82.05" y="409.10" font-size="9.2" text-anchor="middle" fill="#2a2a2a" stroke="#2a2a2a" stroke-width="0.18" >a</text>
<line x1="72.70" y1="442.10" x2="72.70" y2="444.60" stroke="#606060" stroke-width="1" />
<text x="72.00" y="452.90" font-size="7.8" text-anchor="middle" fill="#2a2a2a" stroke="#2a2a2a" stroke-width="0.18" >PaPSY</text>
<rect x="93.85" y="435.60" width="8.50" height="6.50" fill="#f3b47c" />
<line x1="98.10" y1="435.60" x2="98.10" y2="435.00" stroke="#333" stroke-width="0.8" />
<line x1="95.30" y1="435.00" x2="100.90" y2="435.00" stroke="#333" stroke-width="0.9" />
<text x="98.10" y="432.40" font-size="9.2" text-anchor="middle" fill="#2a2a2a" stroke="#2a2a2a" stroke-width="0.18" >b</text>
<rect x="103.15" y="429.50" width="8.50" height="12.60" fill="#1d4c9f" />
<line x1="107.40" y1="429.50" x2="107.40" y2="427.50" stroke="#333" stroke-width="0.8" />
<line x1="104.60" y1="427.50" x2="110.20" y2="427.50" stroke="#333" stroke-width="0.9" />
<text x="107.40" y="424.90" font-size="9.2" text-anchor="middle" fill="#2a2a2a" stroke="#2a2a2a" stroke-width="0.18" >b</text>
<rect x="112.45" y="388.20" width="8.50" height="53.90" fill="#e84444" />
<rect x="112.45" y="313.10" width="8.50" height="69.40" fill="#e84444" />
<line x1="116.70" y1="313.10" x2="116.70" y2="308.50" stroke="#333" stroke-width="0.8" />
<line x1="113.90" y1="308.50" x2="119.50" y2="308.50" stroke="#333" stroke-width="0.9" />
<text x="116.70" y="305.90" font-size="9.2" text-anchor="middle" fill="#2a2a2a" stroke="#2a2a2a" stroke-width="0.18" >a</text>
<line x1="107.35" y1="442.10" x2="107.35" y2="444.60" stroke="#606060" stroke-width="1" />
<text x="106.65" y="452.90" font-size="7.8" text-anchor="middle" fill="#2a2a2a" stroke="#2a2a2a" stroke-width="0.18" >PaPDS</text>
<rect x="128.50" y="435.80" width="8.50" height="6.30" fill="#f3b47c" />
<line x1="132.75" y1="435.80" x2="132.75" y2="434.40" stroke="#333" stroke-width="0.8" />
<line x1="129.95" y1="434.40" x2="135.55" y2="434.40" stroke="#333" stroke-width="0.9" />
<text x="132.75" y="431.80" font-size="9.2" text-anchor="middle" fill="#2a2a2a" stroke="#2a2a2a" stroke-width="0.18" >a</text>
<rect x="137.80" y="433.70" width="8.50" height="8.40" fill="#1d4c9f" />
<line x1="142.05" y1="433.70" x2="142.05" y2="431.20" stroke="#333" stroke-width="0.8" />
<line x1="139.25" y1="431.20" x2="144.85" y2="431.20" stroke="#333" stroke-width="0.9" />
<text x="142.05" y="428.60" font-size="9.2" text-anchor="middle" fill="#2a2a2a" stroke="#2a2a2a" stroke-width="0.18" >a</text>
<rect x="147.10" y="433.30" width="8.50" height="8.80" fill="#e84444" />
<line x1="151.35" y1="433.30" x2="151.35" y2="432.80" stroke="#333" stroke-width="0.8" />
<line x1="148.55" y1="432.80" x2="154.15" y2="432.80" stroke="#333" stroke-width="0.9" />
<text x="151.35" y="430.20" font-size="9.2" text-anchor="middle" fill="#2a2a2a" stroke="#2a2a2a" stroke-width="0.18" >a</text>
<line x1="142.00" y1="442.10" x2="142.00" y2="444.60" stroke="#606060" stroke-width="1" />
<text x="141.30" y="452.90" font-size="7.8" text-anchor="middle" fill="#2a2a2a" stroke="#2a2a2a" stroke-width="0.18" >PaZISO</text>
<rect x="163.15" y="436.10" width="8.50" height="6.00" fill="#f3b47c" />
<line x1="167.40" y1="436.10" x2="167.40" y2="435.50" stroke="#333" stroke-width="0.8" />
<line x1="164.60" y1="435.50" x2="170.20" y2="435.50" stroke="#333" stroke-width="0.9" />
<text x="167.40" y="432.90" font-size="9.2" text-anchor="middle" fill="#2a2a2a" stroke="#2a2a2a" stroke-width="0.18" >c</text>
<rect x="172.45" y="405.00" width="8.50" height="37.10" fill="#1d4c9f" />
<line x1="176.70" y1="405.00" x2="176.70" y2="403.80" stroke="#333" stroke-width="0.8" />
<line x1="173.90" y1="403.80" x2="179.50" y2="403.80" stroke="#333" stroke-width="0.9" />
<text x="176.70" y="401.20" font-size="9.2" text-anchor="middle" fill="#2a2a2a" stroke="#2a2a2a" stroke-width="0.18" >a</text>
<rect x="181.75" y="431.90" width="8.50" height="10.20" fill="#e84444" />
<line x1="186.00" y1="431.90" x2="186.00" y2="431.30" stroke="#333" stroke-width="0.8" />
<line x1="183.20" y1="431.30" x2="188.80" y2="431.30" stroke="#333" stroke-width="0.9" />
<text x="186.00" y="428.70" font-size="9.2" text-anchor="middle" fill="#2a2a2a" stroke="#2a2a2a" stroke-width="0.18" >b</text>
<line x1="176.65" y1="442.10" x2="176.65" y2="444.60" stroke="#606060" stroke-width="1" />
<text x="175.95" y="452.90" font-size="7.8" text-anchor="middle" fill="#2a2a2a" stroke="#2a2a2a" stroke-width="0.18" >PaZDS</text>
<rect x="197.80" y="435.80" width="8.50" height="6.30" fill="#f3b47c" />
<line x1="202.05" y1="435.80" x2="202.05" y2="435.20" stroke="#333" stroke-width="0.8" />
<line x1="199.25" y1="435.20" x2="204.85" y2="435.20" stroke="#333" stroke-width="0.9" />
<text x="202.05" y="432.60" font-size="9.2" text-anchor="middle" fill="#2a2a2a" stroke="#2a2a2a" stroke-width="0.18" >b</text>
<rect x="207.10" y="397.80" width="8.50" height="44.30" fill="#1d4c9f" />
<line x1="211.35" y1="397.80" x2="211.35" y2="392.30" stroke="#333" stroke-width="0.8" />
<line x1="208.55" y1="392.30" x2="214.15" y2="392.30" stroke="#333" stroke-width="0.9" />
<text x="211.35" y="389.70" font-size="9.2" text-anchor="middle" fill="#2a2a2a" stroke="#2a2a2a" stroke-width="0.18" >a</text>
<rect x="216.40" y="433.70" width="8.50" height="8.40" fill="#e84444" />
<line x1="220.65" y1="433.70" x2="220.65" y2="433.10" stroke="#333" stroke-width="0.8" />
<line x1="217.85" y1="433.10" x2="223.45" y2="433.10" stroke="#333" stroke-width="0.9" />
<text x="220.65" y="430.50" font-size="9.2" text-anchor="middle" fill="#2a2a2a" stroke="#2a2a2a" stroke-width="0.18" >b</text>
<line x1="211.30" y1="442.10" x2="211.30" y2="444.60" stroke="#606060" stroke-width="1" />
<text x="210.60" y="452.90" font-size="7.8" text-anchor="middle" fill="#2a2a2a" stroke="#2a2a2a" stroke-width="0.18" >PaCRTISO</text>
<rect x="232.45" y="435.80" width="8.50" height="6.30" fill="#f3b47c" />
<line x1="236.70" y1="435.80" x2="236.70" y2="435.20" stroke="#333" stroke-width="0.8" />
<line x1="233.90" y1="435.20" x2="239.50" y2="435.20" stroke="#333" stroke-width="0.9" />
<text x="236.70" y="432.60" font-size="9.2" text-anchor="middle" fill="#2a2a2a" stroke="#2a2a2a" stroke-width="0.18" >a</text>
<rect x="241.75" y="438.90" width="8.50" height="3.20" fill="#1d4c9f" />
<line x1="246.00" y1="438.90" x2="246.00" y2="438.20" stroke="#333" stroke-width="0.8" />
<line x1="243.20" y1="438.20" x2="248.80" y2="438.20" stroke="#333" stroke-width="0.9" />
<text x="246.00" y="435.60" font-size="9.2" text-anchor="middle" fill="#2a2a2a" stroke="#2a2a2a" stroke-width="0.18" >b</text>
<rect x="251.05" y="436.10" width="8.50" height="6.00" fill="#e84444" />
<line x1="255.30" y1="436.10" x2="255.30" y2="435.40" stroke="#333" stroke-width="0.8" />
<line x1="252.50" y1="435.40" x2="258.10" y2="435.40" stroke="#333" stroke-width="0.9" />
<text x="255.30" y="432.80" font-size="9.2" text-anchor="middle" fill="#2a2a2a" stroke="#2a2a2a" stroke-width="0.18" >a</text>
<line x1="245.95" y1="442.10" x2="245.95" y2="444.60" stroke="#606060" stroke-width="1" />
<text x="245.25" y="452.90" font-size="7.8" text-anchor="middle" fill="#2a2a2a" stroke="#2a2a2a" stroke-width="0.18" >PaLCYB</text>
<polyline points="56.7,381.3 56.7,301.5 262.5,301.5 262.5,442.1 56.7,442.1 56.7,387.7" fill="none" stroke="#606060" stroke-width="1.1"/>
<line x1="55.20" y1="382.00" x2="58.20" y2="384.80" stroke="#606060" stroke-width="0.9" />
<line x1="55.20" y1="386.20" x2="58.20" y2="389.00" stroke="#606060" stroke-width="0.9" />
<line x1="54.00" y1="301.50" x2="56.70" y2="301.50" stroke="#606060" stroke-width="1" />
<text x="51.20" y="305.00" font-size="10" text-anchor="end" fill="#2a2a2a" stroke="#2a2a2a" stroke-width="0.18" >50</text>
<line x1="54.00" y1="320.88" x2="56.70" y2="320.88" stroke="#606060" stroke-width="1" />
<text x="51.20" y="324.38" font-size="10" text-anchor="end" fill="#2a2a2a" stroke="#2a2a2a" stroke-width="0.18" >40</text>
<line x1="54.00" y1="340.25" x2="56.70" y2="340.25" stroke="#606060" stroke-width="1" />
<text x="51.20" y="343.75" font-size="10" text-anchor="end" fill="#2a2a2a" stroke="#2a2a2a" stroke-width="0.18" >30</text>
<line x1="54.00" y1="359.62" x2="56.70" y2="359.62" stroke="#606060" stroke-width="1" />
<text x="51.20" y="363.12" font-size="10" text-anchor="end" fill="#2a2a2a" stroke="#2a2a2a" stroke-width="0.18" >20</text>
<line x1="54.00" y1="379.00" x2="56.70" y2="379.00" stroke="#606060" stroke-width="1" />
<text x="51.20" y="382.50" font-size="10" text-anchor="end" fill="#2a2a2a" stroke="#2a2a2a" stroke-width="0.18" >10</text>
<line x1="54.00" y1="388.42" x2="56.70" y2="388.42" stroke="#606060" stroke-width="1" />
<text x="51.20" y="391.92" font-size="10" text-anchor="end" fill="#2a2a2a" stroke="#2a2a2a" stroke-width="0.18" >8</text>
<line x1="54.00" y1="401.84" x2="56.70" y2="401.84" stroke="#606060" stroke-width="1" />
<text x="51.20" y="405.34" font-size="10" text-anchor="end" fill="#2a2a2a" stroke="#2a2a2a" stroke-width="0.18" >6</text>
<line x1="54.00" y1="415.26" x2="56.70" y2="415.26" stroke="#606060" stroke-width="1" />
<text x="51.20" y="418.76" font-size="10" text-anchor="end" fill="#2a2a2a" stroke="#2a2a2a" stroke-width="0.18" >4</text>
<line x1="54.00" y1="428.68" x2="56.70" y2="428.68" stroke="#606060" stroke-width="1" />
<text x="51.20" y="432.18" font-size="10" text-anchor="end" fill="#2a2a2a" stroke="#2a2a2a" stroke-width="0.18" >2</text>
<line x1="54.00" y1="442.10" x2="56.70" y2="442.10" stroke="#606060" stroke-width="1" />
<text x="51.20" y="445.60" font-size="10" text-anchor="end" fill="#2a2a2a" stroke="#2a2a2a" stroke-width="0.18" >0</text>
<text x="0.00" y="0.00" font-size="10.4" text-anchor="middle" fill="#2a2a2a" stroke="#2a2a2a" stroke-width="0.18" transform="translate(33.8,369) rotate(-90)">Relative expression</text>
<rect x="187.80" y="304.20" width="6.80" height="4.60" fill="#f3b47c" />
<text x="198.80" y="309.20" font-size="7.9" text-anchor="start" fill="#2a2a2a" stroke="#2a2a2a" stroke-width="0.18" >pBWA</text>
<rect x="187.80" y="312.40" width="6.80" height="4.60" fill="#1d4c9f" />
<text x="198.80" y="317.40" font-size="7.9" text-anchor="start" fill="#2a2a2a" stroke="#2a2a2a" stroke-width="0.18" >pBWA-X15-PaPDS</text>
<rect x="187.80" y="320.60" width="6.80" height="4.60" fill="#e84444" />
<text x="198.80" y="325.60" font-size="7.9" text-anchor="start" fill="#2a2a2a" stroke="#2a2a2a" stroke-width="0.18" >pBWA-JTY-PaPDS</text>
<line x1="90.5" y1="297" x2="124.8" y2="297" stroke="#ec3a48" stroke-width="1.4" stroke-dasharray="5.8 6.30" stroke-dashoffset="7.40"/>
<line x1="90.5" y1="459.3" x2="124.8" y2="459.3" stroke="#ec3a48" stroke-width="1.4" stroke-dasharray="5.8 6.30" stroke-dashoffset="7.40"/>
<line x1="90.5" y1="297" x2="90.5" y2="459.3" stroke="#ec3a48" stroke-width="1.4" stroke-dasharray="5.4 6.20" stroke-dashoffset="10.30"/>
<line x1="124.8" y1="297" x2="124.8" y2="459.3" stroke="#ec3a48" stroke-width="1.4" stroke-dasharray="5.4 6.20" stroke-dashoffset="6.00"/>
<text x="4.60" y="294.00" font-size="13" text-anchor="start" fill="#2a2a2a" stroke="#2a2a2a" stroke-width="0.22" >C</text>
<rect x="351.30" y="352.80" width="11.30" height="89.80" fill="#1d4c9f" />
<line x1="356.95" y1="352.80" x2="356.95" y2="349.60" stroke="#333" stroke-width="0.8" />
<line x1="353.75" y1="349.60" x2="360.15" y2="349.60" stroke="#333" stroke-width="0.9" />
<rect x="363.10" y="417.70" width="11.30" height="24.90" fill="#e84444" />
<line x1="368.75" y1="417.70" x2="368.75" y2="415.40" stroke="#333" stroke-width="0.8" />
<line x1="365.55" y1="415.40" x2="371.95" y2="415.40" stroke="#333" stroke-width="0.9" />
<polyline points="356.70,347.60 356.70,345.00 367.60,345.00 367.60,350.20" fill="none" stroke="#6a6a6a" stroke-width="0.9"/>
<polygon points="357.00,339.07 357.64,340.10 358.84,340.14 358.27,341.20 358.84,342.26 357.64,342.30 357.00,343.32 356.36,342.30 355.16,342.26 355.72,341.20 355.16,340.14 356.36,340.10" fill="#737373"/>
<polygon points="362.10,339.07 362.74,340.10 363.94,340.14 363.37,341.20 363.94,342.26 362.74,342.30 362.10,343.32 361.46,342.30 360.26,342.26 360.82,341.20 360.26,340.14 361.46,340.10" fill="#737373"/>
<polygon points="367.20,339.07 367.84,340.10 369.04,340.14 368.47,341.20 369.04,342.26 367.84,342.30 367.20,343.32 366.56,342.30 365.36,342.26 365.93,341.20 365.36,340.14 366.56,340.10" fill="#737373"/>
<line x1="362.85" y1="442.60" x2="362.85" y2="445.10" stroke="#606060" stroke-width="1" />
<text x="362.85" y="452.20" font-size="7.9" text-anchor="middle" fill="#2a2a2a" stroke="#2a2a2a" stroke-width="0.18" >PaPSY</text>
<rect x="386.50" y="360.60" width="11.30" height="82.00" fill="#1d4c9f" />
<line x1="392.15" y1="360.60" x2="392.15" y2="354.30" stroke="#333" stroke-width="0.8" />
<line x1="388.95" y1="354.30" x2="395.35" y2="354.30" stroke="#333" stroke-width="0.9" />
<rect x="398.30" y="411.80" width="11.30" height="30.80" fill="#e84444" />
<line x1="403.95" y1="411.80" x2="403.95" y2="408.50" stroke="#333" stroke-width="0.8" />
<line x1="400.75" y1="408.50" x2="407.15" y2="408.50" stroke="#333" stroke-width="0.9" />
<polyline points="391.90,352.30 391.90,349.70 402.80,349.70 402.80,354.90" fill="none" stroke="#6a6a6a" stroke-width="0.9"/>
<polygon points="392.20,343.77 392.84,344.80 394.04,344.84 393.47,345.90 394.04,346.96 392.84,347.00 392.20,348.02 391.56,347.00 390.36,346.96 390.92,345.90 390.36,344.84 391.56,344.80" fill="#737373"/>
<polygon points="397.30,343.77 397.94,344.80 399.14,344.84 398.57,345.90 399.14,346.96 397.94,347.00 397.30,348.02 396.66,347.00 395.46,346.96 396.02,345.90 395.46,344.84 396.66,344.80" fill="#737373"/>
<polygon points="402.40,343.77 403.04,344.80 404.24,344.84 403.67,345.90 404.24,346.96 403.04,347.00 402.40,348.02 401.76,347.00 400.56,346.96 401.12,345.90 400.56,344.84 401.76,344.80" fill="#737373"/>
<line x1="398.05" y1="442.60" x2="398.05" y2="445.10" stroke="#606060" stroke-width="1" />
<text x="398.05" y="452.20" font-size="7.9" text-anchor="middle" fill="#2a2a2a" stroke="#2a2a2a" stroke-width="0.18" >PaPDS</text>
<rect x="421.70" y="353.00" width="11.30" height="89.60" fill="#1d4c9f" />
<line x1="427.35" y1="353.00" x2="427.35" y2="342.30" stroke="#333" stroke-width="0.8" />
<line x1="424.15" y1="342.30" x2="430.55" y2="342.30" stroke="#333" stroke-width="0.9" />
<rect x="433.50" y="431.00" width="11.30" height="11.60" fill="#e84444" />
<line x1="439.15" y1="431.00" x2="439.15" y2="429.20" stroke="#333" stroke-width="0.8" />
<line x1="435.95" y1="429.20" x2="442.35" y2="429.20" stroke="#333" stroke-width="0.9" />
<polyline points="427.10,340.30 427.10,337.70 438.00,337.70 438.00,342.90" fill="none" stroke="#6a6a6a" stroke-width="0.9"/>
<polygon points="427.40,331.77 428.04,332.80 429.24,332.84 428.67,333.90 429.24,334.96 428.04,335.00 427.40,336.02 426.76,335.00 425.56,334.96 426.12,333.90 425.56,332.84 426.76,332.80" fill="#737373"/>
<polygon points="432.50,331.77 433.14,332.80 434.34,332.84 433.77,333.90 434.34,334.96 433.14,335.00 432.50,336.02 431.86,335.00 430.66,334.96 431.23,333.90 430.66,332.84 431.86,332.80" fill="#737373"/>
<polygon points="437.60,331.77 438.24,332.80 439.44,332.84 438.88,333.90 439.44,334.96 438.24,335.00 437.60,336.02 436.96,335.00 435.76,334.96 436.33,333.90 435.76,332.84 436.96,332.80" fill="#737373"/>
<line x1="433.25" y1="442.60" x2="433.25" y2="445.10" stroke="#606060" stroke-width="1" />
<text x="433.25" y="452.20" font-size="7.9" text-anchor="middle" fill="#2a2a2a" stroke="#2a2a2a" stroke-width="0.18" >PaZISO</text>
<rect x="456.90" y="364.80" width="11.30" height="77.80" fill="#1d4c9f" />
<line x1="462.55" y1="364.80" x2="462.55" y2="357.70" stroke="#333" stroke-width="0.8" />
<line x1="459.35" y1="357.70" x2="465.75" y2="357.70" stroke="#333" stroke-width="0.9" />
<rect x="468.70" y="408.60" width="11.30" height="34.00" fill="#e84444" />
<line x1="474.35" y1="408.60" x2="474.35" y2="406.30" stroke="#333" stroke-width="0.8" />
<line x1="471.15" y1="406.30" x2="477.55" y2="406.30" stroke="#333" stroke-width="0.9" />
<polyline points="462.30,355.70 462.30,353.10 473.20,353.10 473.20,358.30" fill="none" stroke="#6a6a6a" stroke-width="0.9"/>
<polygon points="462.60,347.17 463.24,348.20 464.44,348.24 463.87,349.30 464.44,350.36 463.24,350.40 462.60,351.42 461.96,350.40 460.76,350.36 461.32,349.30 460.76,348.24 461.96,348.20" fill="#737373"/>
<polygon points="467.70,347.17 468.34,348.20 469.54,348.24 468.97,349.30 469.54,350.36 468.34,350.40 467.70,351.42 467.06,350.40 465.86,350.36 466.43,349.30 465.86,348.24 467.06,348.20" fill="#737373"/>
<polygon points="472.80,347.17 473.44,348.20 474.64,348.24 474.07,349.30 474.64,350.36 473.44,350.40 472.80,351.42 472.16,350.40 470.96,350.36 471.53,349.30 470.96,348.24 472.16,348.20" fill="#737373"/>
<line x1="468.45" y1="442.60" x2="468.45" y2="445.10" stroke="#606060" stroke-width="1" />
<text x="468.45" y="452.20" font-size="7.9" text-anchor="middle" fill="#2a2a2a" stroke="#2a2a2a" stroke-width="0.18" >PaZDS</text>
<rect x="492.10" y="364.50" width="11.30" height="78.10" fill="#1d4c9f" />
<line x1="497.75" y1="364.50" x2="497.75" y2="356.00" stroke="#333" stroke-width="0.8" />
<line x1="494.55" y1="356.00" x2="500.95" y2="356.00" stroke="#333" stroke-width="0.9" />
<rect x="503.90" y="439.50" width="11.30" height="3.10" fill="#e84444" />
<polyline points="497.50,354.00 497.50,351.40 508.40,351.40 508.40,356.60" fill="none" stroke="#6a6a6a" stroke-width="0.9"/>
<polygon points="497.80,345.47 498.44,346.50 499.64,346.54 499.07,347.60 499.64,348.66 498.44,348.70 497.80,349.72 497.16,348.70 495.96,348.66 496.52,347.60 495.96,346.54 497.16,346.50" fill="#737373"/>
<polygon points="502.90,345.47 503.54,346.50 504.74,346.54 504.17,347.60 504.74,348.66 503.54,348.70 502.90,349.72 502.26,348.70 501.06,348.66 501.62,347.60 501.06,346.54 502.26,346.50" fill="#737373"/>
<polygon points="508.00,345.47 508.64,346.50 509.84,346.54 509.27,347.60 509.84,348.66 508.64,348.70 508.00,349.72 507.36,348.70 506.16,348.66 506.73,347.60 506.16,346.54 507.36,346.50" fill="#737373"/>
<line x1="503.65" y1="442.60" x2="503.65" y2="445.10" stroke="#606060" stroke-width="1" />
<text x="503.65" y="452.20" font-size="7.9" text-anchor="middle" fill="#2a2a2a" stroke="#2a2a2a" stroke-width="0.18" >PaCRTISO</text>
<rect x="345.4" y="301.9" width="175.30" height="140.70" fill="none" stroke="#606060" stroke-width="1.1"/>
<line x1="342.70" y1="442.60" x2="345.40" y2="442.60" stroke="#606060" stroke-width="1" />
<text x="339.80" y="445.70" font-size="8.8" text-anchor="end" fill="#2a2a2a" stroke="#2a2a2a" stroke-width="0.18" >0.0</text>
<line x1="342.70" y1="395.68" x2="345.40" y2="395.68" stroke="#606060" stroke-width="1" />
<text x="339.80" y="398.78" font-size="8.8" text-anchor="end" fill="#2a2a2a" stroke="#2a2a2a" stroke-width="0.18" >0.6</text>
<line x1="342.70" y1="348.76" x2="345.40" y2="348.76" stroke="#606060" stroke-width="1" />
<text x="339.80" y="351.86" font-size="8.8" text-anchor="end" fill="#2a2a2a" stroke="#2a2a2a" stroke-width="0.18" >1.2</text>
<line x1="342.70" y1="301.84" x2="345.40" y2="301.84" stroke="#606060" stroke-width="1" />
<text x="339.80" y="304.94" font-size="8.8" text-anchor="end" fill="#2a2a2a" stroke="#2a2a2a" stroke-width="0.18" >1.8</text>
<text x="0.00" y="0.00" font-size="10.4" text-anchor="middle" fill="#2a2a2a" stroke="#2a2a2a" stroke-width="0.18" transform="translate(320.2,363.4) rotate(-90)">Relative expression</text>
<rect x="351.20" y="305.60" width="6.50" height="4.60" fill="#1d4c9f" />
<text x="0.00" y="0.00" font-size="7.8" text-anchor="start" fill="#2a2a2a" stroke="#2a2a2a" stroke-width="0.18" transform="translate(362,310.0) scale(0.87,1)">TRV1+TRV2</text>
<rect x="351.20" y="314.00" width="6.50" height="4.60" fill="#e84444" />
<text x="0.00" y="0.00" font-size="7.8" text-anchor="start" fill="#2a2a2a" stroke="#2a2a2a" stroke-width="0.18" transform="translate(362,318.5) scale(0.87,1)">TRV1+TRV2:PaPDS</text>
<line x1="382" y1="340.2" x2="412.6" y2="340.2" stroke="#ec3a48" stroke-width="1.2" stroke-dasharray="3.6 3.60" stroke-dashoffset="3.00"/>
<line x1="382" y1="455.2" x2="412.6" y2="455.2" stroke="#ec3a48" stroke-width="1.2" stroke-dasharray="3.6 3.60" stroke-dashoffset="3.00"/>
<line x1="382" y1="340.2" x2="382" y2="455.2" stroke="#ec3a48" stroke-width="1.2" stroke-dasharray="3.5 3.40" stroke-dashoffset="6.70"/>
<line x1="412.6" y1="340.2" x2="412.6" y2="455.2" stroke="#ec3a48" stroke-width="1.2" stroke-dasharray="3.5 3.40" stroke-dashoffset="5.00"/>
<text x="285.80" y="293.00" font-size="13" text-anchor="start" fill="#2a2a2a" stroke="#2a2a2a" stroke-width="0.22" >F</text>
</svg></body></html>
